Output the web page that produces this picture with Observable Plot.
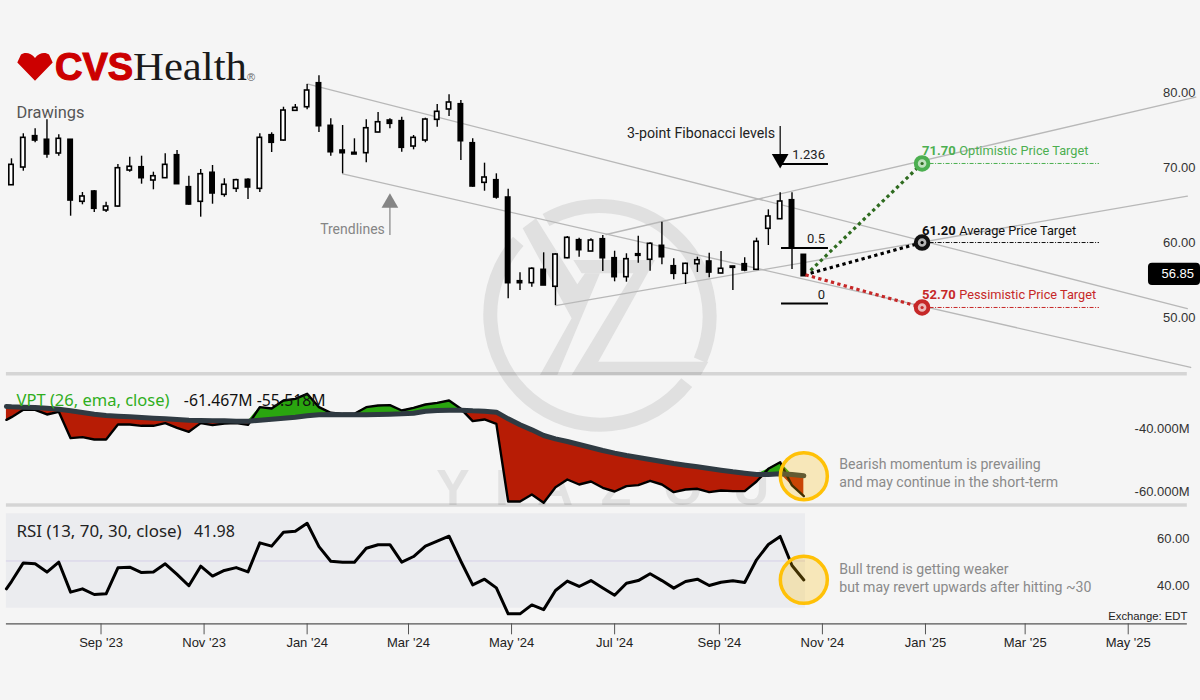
<!DOCTYPE html>
<html>
<head>
<meta charset="utf-8">
<script src="https://cdn.jsdelivr.net/npm/d3@7"></script>
<script src="https://cdn.jsdelivr.net/npm/@observablehq/plot@0.6"></script>
<style>
  html, body { margin: 0; padding: 0; background: #f5f5f5; }
  #page { position: relative; width: 1200px; height: 700px; overflow: hidden; background: #f5f5f5; }
  #page > svg, #page > div { position: absolute; left: 0; }
  #main { top: 0; } #vpt { top: 374px; } #rsi { top: 506px; }
  #main svg, #vpt svg, #rsi svg { display: block; overflow: visible; }
</style>
</head>
<body>
<div id="page">
  <svg id="watermark" width="1200" height="700" style="top:0">
    <g fill="none" stroke="#e0e0e0" stroke-width="14">
      <path d="M546 220 A110 110 0 0 1 700.3 360.3"/>
      <path d="M686.7 382.7 A110 110 0 1 1 518.3 241.3"/>
    </g>
    <g transform="translate(470,190) scale(0.3333)" fill="#e0e0e0">
      <path d="M310 210 L555 210 L385 515 L715 515 L693 555 L305 555 L490 250 L335 250 Z"/>
      <path d="M158 115 L198 85 L322 283 L345 250 L390 250 L262 555 L210 555 L305 385 Z"/>
    </g>
    <g fill="#e2e2e2" font-family="Liberation Sans" font-weight="bold" font-size="50" text-anchor="middle">
      <text x="453" y="505">Y</text><text x="502" y="505">I</text><text x="555" y="505">A</text>
      <text x="616" y="505">Z</text><text x="683" y="505">O</text><text x="751" y="505">U</text>
    </g>
    <path d="M35 58 C31 52 24 52 21 54.5 L17.3 62.5 L35 80.7 L52.7 62.5 L49 54.5 C46 52 39 52 35 58 Z" fill="#cc0000"/>
    <text x="55" y="79.5" font-family="Liberation Sans" font-weight="bold" font-size="38" fill="#cc0000" textLength="78" lengthAdjust="spacingAndGlyphs" stroke="#cc0000" stroke-width="1.2">CVS</text>
    <text x="133" y="80" font-family="Liberation Serif" font-size="39" fill="#1a1a1a" textLength="114" lengthAdjust="spacingAndGlyphs">Health</text>
    <text x="247" y="80.5" font-family="Liberation Sans" font-size="11" fill="#666">®</text>
  </svg>
  <div id="main"></div>
  <div id="vpt"></div>
  <div id="rsi"></div>
</div>
<script>
// ---- Weekly candles (first bar: week of 10 Jul 2023) ----
const opens  = [67.77,70.13,74.31,73.83,72.00,73.83,65.56,66.93,64.40,64.93,69.73,70.17,68.40,68.71,71.77,67.51,65.56,69.43,66.49,67.29,68.49,67.29,74.44,73.73,77.69,78.17,81.37,75.69,72.40,72.09,72.04,74.80,76.40,76.31,72.93,73.73,76.49,77.87,78.57,73.37,68.09,68.44,66.13,54.97,54.71,56.49,54.23,58.04,60.44,58.93,60.57,58.04,55.51,58.57,57.83,59.69,56.97,55.96,57.24,57.60,56.00,56.93,57.24,56.49,61.96,63.24,65.77,58.49];
const highs  = [71.29,74.63,75.29,76.49,74.49,73.83,66.80,67.07,65.51,70.53,71.51,71.64,69.51,71.96,72.40,68.97,69.87,70.40,68.63,68.57,68.63,74.63,74.76,78.17,78.53,81.20,82.36,76.63,75.73,73.96,76.49,77.47,76.63,76.84,74.40,76.71,78.53,79.83,79.07,73.96,70.71,69.29,67.24,56.09,56.76,58.76,58.63,60.93,60.71,60.63,61.07,58.97,58.63,60.97,60.09,62.84,57.96,57.37,58.17,58.71,58.93,56.97,58.09,60.71,64.49,66.76,66.76,58.49];
const lows   = [67.73,69.64,73.43,71.37,71.64,63.64,65.16,64.13,64.13,64.84,69.51,67.91,67.16,68.71,67.91,65.11,63.51,65.24,66.17,66.80,65.87,66.80,72.13,73.64,77.64,77.83,74.80,71.64,69.29,71.87,70.76,74.76,75.29,72.17,72.49,73.43,75.51,76.93,71.07,67.51,66.97,65.91,52.63,53.73,54.17,54.40,51.73,57.96,58.17,58.93,56.27,54.89,54.84,57.37,56.31,57.16,55.16,54.53,56.13,55.43,55.96,53.73,56.23,56.40,59.73,63.20,56.53,55.64];
const closes = [70.49,74.09,73.73,71.87,73.96,65.73,66.27,64.63,64.93,70.04,70.23,68.71,68.97,70.49,67.91,65.20,69.24,66.67,67.83,68.44,67.47,74.09,73.43,77.73,78.09,80.40,75.64,72.17,72.04,71.87,75.37,76.17,75.96,72.76,74.09,76.53,77.56,78.80,73.64,67.60,68.80,66.13,54.71,54.71,56.63,54.40,58.53,60.76,59.11,60.40,58.04,55.51,57.91,58.36,59.96,58.17,55.96,57.29,57.77,56.13,56.63,56.76,56.40,60.23,63.60,65.60,59.51,55.64];
const weeks = d3.utcMonday.range(new Date("2023-07-10"), new Date("2024-10-22"));

// ---- Indicator series; each has one leading value just before the first candle ----
const leadDate = new Date("2023-07-07");
const vptLine = [-37.25,-36.40,-34.07,-34.07,-35.55,-34.71,-43.07,-42.75,-43.49,-43.49,-38.73,-38.73,-39.15,-39.15,-38.30,-39.79,-41.06,-38.30,-38.94,-38.41,-38.30,-38.83,-33.23,-33.65,-31.11,-30.58,-28.99,-33.23,-35.02,-35.34,-35.34,-33.23,-32.70,-32.59,-34.28,-33.44,-32.38,-31.85,-31.11,-33.75,-37.67,-37.14,-38.52,-63.17,-63.17,-60.95,-63.60,-58.62,-56.19,-57.78,-56.82,-58.83,-60.00,-58.30,-57.99,-56.61,-57.78,-60.21,-59.36,-59.15,-60.21,-59.68,-59.89,-59.89,-56.82,-52.80,-50.69,-58.09,-61.47];
const vptEma  = [-33.01,-33.12,-33.23,-33.33,-33.54,-33.86,-34.39,-34.92,-35.45,-35.87,-36.08,-36.29,-36.51,-36.72,-36.93,-37.14,-37.35,-37.46,-37.56,-37.56,-37.67,-37.67,-37.35,-37.04,-36.72,-36.40,-35.98,-35.66,-35.55,-35.66,-35.66,-35.66,-35.55,-35.45,-35.34,-35.13,-34.50,-34.28,-34.18,-34.18,-34.39,-34.50,-34.81,-36.93,-38.83,-40.42,-42.22,-43.28,-44.13,-45.08,-46.03,-46.98,-47.83,-48.57,-49.20,-49.84,-50.47,-51.11,-51.64,-52.17,-52.70,-53.23,-53.75,-54.18,-54.60,-54.60,-54.39,-54.60,-55.00];
const rsi = [38.2,41.3,49.2,48.8,45.3,49.5,36.8,38.2,35.8,36.1,47.1,47.4,45.1,45.3,48.8,44.3,39.5,47.8,43.6,46.0,47.2,45.4,57.7,56.3,62.2,62.6,66.0,56.1,49.9,49.5,49.5,55.4,56.9,56.9,49.5,51.9,56.3,58.4,60.5,49.9,39.9,42.3,38.6,27.6,27.6,31.4,29.4,37.5,41.5,39.2,41.7,38.6,35.5,40.6,41.7,44.6,41.7,38.5,41.3,42.3,39.6,41.0,41.6,40.9,50.5,57.0,60.4,48.1,41.98];

// ---- Tick labels ----
const monthTicks = ["2023-09-01","2023-11-01","2024-01-01","2024-03-01","2024-05-01","2024-07-01","2024-09-01","2024-11-01","2025-01-01","2025-03-01","2025-05-01"].map(d => new Date(d));
const priceTicks = [50, 60, 70, 80];
const vptTicks = [-60, -40];
const rsiTicks = [40, 60];

// ---- Price targets: label value, name, colours ----
const targetValues = ["71.70", "61.20", "52.70"];
const targetNames  = ["Optimistic Price Target", "Average Price Target", "Pessimistic Price Target"];
const targetPlotted = [70.67, 60.13, 51.47];      // where the markers sit on the price axis
const targetLabelAt = [72.31, 61.64, 53.20];
const targetStart = [{d:"2024-10-25", p:56.40}, {d:"2024-10-25", p:56.04}, {d:"2024-10-22", p:55.83}];
const targetLine  = ["#2e6b1f", "#000000", "#c62828"];
const targetText  = ["#4caf50", "#111111", "#c62828"];
const targetTint  = ["#bfe0bd", "#b5b5b5", "#eab9b9"];
const targetDate = new Date("2024-12-30"), targetNameDate = new Date("2025-01-21"), targetEnd = new Date("2025-04-14");

// ---- Trendlines and Fibonacci levels ----
const trendlines = [
  [["2024-01-01", 81.29], ["2025-06-05", 51.33]],
  [["2024-01-22", 69.29], ["2025-06-07", 43.47]],
  [["2024-06-26", 61.20], ["2025-06-10", 79.52]],
  [["2024-05-27", 51.73], ["2025-06-05", 66.31]]
];
const fibLabels = ["1.236", "0.5", "0"];
const fibLevels = [70.6, 59.4, 52.0];
const fibLabelAt = [71.8, 60.6, 53.2];

const D = s => new Date(s);
const xScale = { type: "utc", domain: [D("2023-07-03T12:00Z"), D("2025-06-12T19:00Z")], range: [0, 1200] };
const rightEdge = D("2025-06-05");
const SANS = "Liberation Sans", ROBOTO = "Roboto", NOTO = "Noto Sans";
const base = { width: 1200, marginTop: 0, marginLeft: 0, style: { background: "transparent", fontFamily: SANS, fontSize: "13px", color: "#222", overflow: "visible" } };
const note = (x, y, text, o = {}) => Plot.text([{ x: D(x), y, text }], { x: "x", y: "y", text: "text", textAnchor: "start", fontFamily: ROBOTO, fontSize: 14.1, ...o });

const candles = weeks.map((date, i) => ({ date, o: opens[i], h: highs[i], l: lows[i], c: closes[i], up: closes[i] >= opens[i] }));
const halfBody = d => d3.utcHour.offset(d.date, -31);
const halfBody2 = d => d3.utcHour.offset(d.date, 31);
const targets = targetValues.map((v, i) => ({ v, name: targetNames[i], p: targetPlotted[i], lab: targetLabelAt[i], s: targetStart[i], line: targetLine[i], text: targetText[i], tint: targetTint[i] }));

const main = Plot.plot({ ...base, height: 376, marginBottom: 0, marginRight: 5,
  x: { ...xScale, axis: null },
  y: { domain: [42.2667, 92.4], range: [376, 0], axis: null },
  marks: [
    Plot.ruleY([42.63], { x1: leadDate, x2: rightEdge, stroke: "rgba(0,0,0,0.13)", strokeWidth: 3.5 }),
    ...trendlines.map(t => Plot.line(t.map(([d, p]) => ({ d: D(d), p })), { x: "d", y: "p", stroke: "#b8b8b8", strokeWidth: 1.3 })),
    Plot.ruleX(candles, { x: "date", y1: "l", y2: "h", stroke: "#000", strokeWidth: 1.4 }),
    Plot.rect(candles, { x1: halfBody, x2: halfBody2, y1: "o", y2: "c", fill: d => d.up ? "#ffffff" : "#000000", stroke: "#000", strokeWidth: 1.6 }),
    // Fibonacci levels
    Plot.ruleY(fibLevels, { x1: D("2024-10-07T19:00Z"), x2: D("2024-11-04T14:00Z"), stroke: "#000", strokeWidth: 2.2 }),
    Plot.text(fibLabels, { x: D("2024-11-02T12:00Z"), y: (d, i) => fibLabelAt[i], text: d => d, textAnchor: "end", fontSize: 13, fontFamily: ROBOTO, fill: "#222" }),
    note("2024-10-04", 74.67, "3-point Fibonacci levels", { textAnchor: "end", fill: "#222", fontSize: 14.2 }),
    Plot.ruleX([D("2024-10-07")], { y1: 75.6, y2: 71.6, stroke: "#000", strokeWidth: 1.2 }),
    Plot.dot([D("2024-10-07")], { x: d => d, y: 71.3, symbol: "triangle", rotate: 180, r: 6.2, fill: "#000" }),
    // price target paths and levels
    ...targets.map(t => Plot.line([{ d: D(t.s.d), p: t.s.p }, { d: targetDate, p: t.p }], { x: "d", y: "p", stroke: t.line, strokeWidth: 3.2, strokeDasharray: "3.3 3.3", strokeLinecap: "butt" })),
    ...targets.map(t => Plot.ruleY([t.p], { x1: targetDate, x2: targetEnd, stroke: t.text, strokeWidth: 1, strokeDasharray: "4 1.5 1 1.5" })),
    ...targets.map(t => Plot.dot([t.p], { x: targetDate, y: d => d, r: 6.3, fill: t.tint, stroke: t.text, strokeWidth: 4 })),
    ...targets.map(t => Plot.dot([t.p], { x: targetDate, y: d => d, r: 1.6, fill: t.line === "#000000" ? "#000" : t.line })),
    ...targets.map(t => note("2024-12-30", t.lab, t.v, { fill: t.text, fontWeight: "bold", fontSize: 13 })),
    ...targets.map(t => note("2025-01-21", t.lab, t.name, { fill: t.text, fontSize: 12.75 })),
    // annotations
    note("2023-07-13", 77.47, "Drawings", { fill: "#555", fontSize: 16.4 }),
    note("2024-02-16", 61.87, "Trendlines", { textAnchor: "end", fill: "#858585", fontSize: 14 }),
    Plot.ruleX([D("2024-02-19")], { y1: 61.07, y2: 65.0, stroke: "#858585", strokeWidth: 1.2 }),
    Plot.dot([D("2024-02-19")], { x: d => d, y: 65.4, symbol: "triangle", r: 6.2, fill: "#858585" }),
    // current price badge
    Plot.rect([0], { x1: D("2025-05-13"), x2: D("2025-06-12T19:00Z"), y1: 54.4, y2: 57.37, fill: "#000", rx: 4 }),
    Plot.text(["56.85"], { x: D("2025-06-09"), y: 56.0, text: d => d, textAnchor: "end", fill: "#fff", fontSize: 13, fontFamily: SANS }),
    Plot.axisY(priceTicks, { anchor: "right", tickSize: 0, tickPadding: 0, textAnchor: "end", label: null, tickFormat: d => d.toFixed(2), fontSize: 13, fill: "#333", dy: -0.5 })
  ]
});
document.getElementById("main").append(main);

const vptRows = [leadDate, ...weeks].map((date, i) => ({ date, vpt: vptLine[i], ema: vptEma[i] }));
const vpt = Plot.plot({ ...base, height: 132, marginBottom: 0, marginRight: 11,
  x: { ...xScale, axis: null },
  y: { domain: [-64.762, -22.857], range: [132, 0], axis: null },
  marks: [
    Plot.areaY(vptRows, { x: "date", y1: "ema", y2: d => Math.min(d.vpt, d.ema), fill: "#b71c05" }),
    Plot.areaY(vptRows, { x: "date", y1: "ema", y2: d => Math.max(d.vpt, d.ema), fill: "#2aa50f" }),
    Plot.line(vptRows, { x: "date", y: "vpt", stroke: "#000", strokeWidth: 2.4 }),
    Plot.line(vptRows, { x: "date", y: "ema", stroke: "#2f3a42", strokeWidth: 5 }),
    Plot.ruleY([-64.29], { x1: leadDate, x2: rightEdge, stroke: "rgba(0,0,0,0.13)", strokeWidth: 3.5 }),
    Plot.dot([weeks[weeks.length - 1]], { x: d => d, y: -55.14, r: 23.5, fill: "#ffc107", fillOpacity: 0.25, stroke: "#ffc107", strokeWidth: 3.5 }),
    note("2023-07-13", -31.11, "VPT (26, ema, close)", { fill: "#2fae1c", fontSize: 16.5, fontFamily: NOTO }),
    note("2023-10-20", -31.11, "-61.467M -55.518M", { fill: "#111", fontSize: 15.8, fontFamily: NOTO }),
    note("2024-11-11", -51.43, "Bearish momentum is prevailing", { fill: "#8a8a8a" }),
    note("2024-11-11", -57.14, "and may continue in the short-term", { fill: "#8a8a8a" }),
    Plot.axisY(vptTicks, { anchor: "right", tickSize: 0, tickPadding: 0, textAnchor: "end", label: null, tickFormat: d => d.toFixed(3) + "M", fontSize: 13, fill: "#333" })
  ]
});
document.getElementById("vpt").append(vpt);

const rsiRows = [leadDate, ...weeks].map((date, i) => ({ date, rsi: rsi[i] }));
const bandEnd = D("2024-10-22");
const rsiPlot = Plot.plot({ ...base, height: 194, marginBottom: 76.7, marginRight: 11,
  x: { ...xScale, axis: null },
  y: { domain: [23.39, 73.09], range: [117.3, 0], axis: null },
  marks: [
    Plot.rect([0], { x1: leadDate, x2: bandEnd, y1: 30, y2: 70, fill: "#ebecef" }),
    Plot.ruleY([50], { x1: leadDate, x2: bandEnd, stroke: "#d5cfe8", strokeWidth: 1 }),
    Plot.ruleY([23.39], { x1: leadDate, x2: rightEdge, stroke: "#555", strokeWidth: 1.3 }),
    Plot.line(rsiRows, { x: "date", y: "rsi", stroke: "#000", strokeWidth: 3 }),
    Plot.dot([weeks[weeks.length - 1]], { x: d => d, y: 42.03, r: 23.5, fill: "#ffc107", fillOpacity: 0.25, stroke: "#ffc107", strokeWidth: 3.5 }),
    note("2023-07-13", 62.5, "RSI (13, 70, 30, close)", { fill: "#222", fontSize: 16.9, fontFamily: NOTO }),
    note("2023-10-26", 62.5, "41.98", { fill: "#222", fontSize: 16, fontFamily: NOTO }),
    note("2024-11-11", 46.4, "Bull trend is getting weaker", { fill: "#8a8a8a" }),
    note("2024-11-11", 38.77, "but may revert upwards after hitting ~30", { fill: "#8a8a8a" }),
    note("2025-06-05", 26.48, "Exchange: EDT", { textAnchor: "end", fill: "#222", fontSize: 11.3, fontFamily: SANS }),
    Plot.axisY(rsiTicks, { anchor: "right", tickSize: 0, tickPadding: 0, textAnchor: "end", label: null, tickFormat: d => d.toFixed(2), fontSize: 13, fill: "#333", dy: 1 }),
    Plot.axisX(monthTicks, { tickSize: 11, tickPadding: 3, label: null, tickFormat: d3.utcFormat("%b '%y"), fontSize: 13, stroke: "#555", fill: "#222" })
  ]
});
document.getElementById("rsi").append(rsiPlot);
</script>
</body>
</html>
